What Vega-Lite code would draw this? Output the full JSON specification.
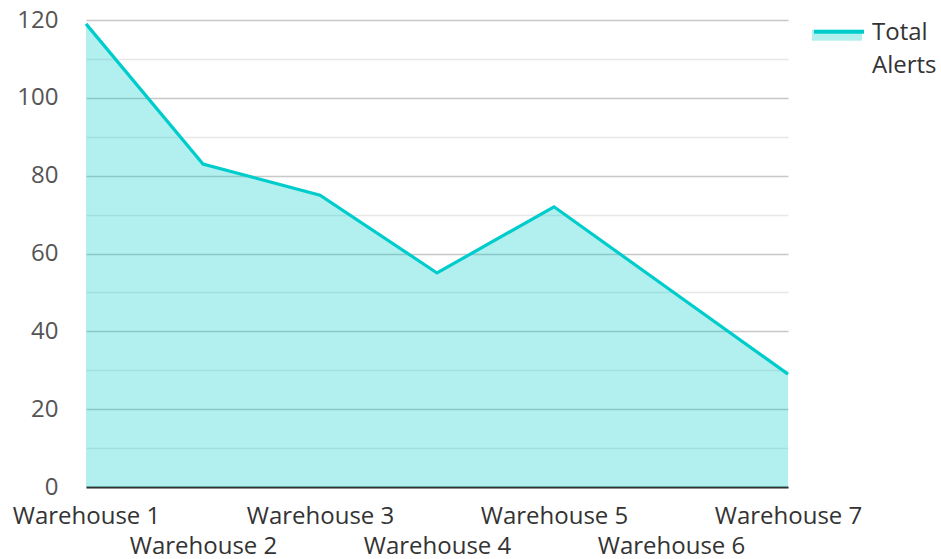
{
  "$schema": "https://vega.github.io/schema/vega-lite/v6.json",
  "width": 702,
  "height": 467,
  "autosize": {"type": "none"},
  "padding": {"left": 86, "top": 20, "right": 153, "bottom": 72},
  "config": {
    "font": "Open Sans",
    "view": {"stroke": null}
  },
  "data": {
    "values": [
      {"warehouse": "Warehouse 1", "alerts": 119},
      {"warehouse": "Warehouse 2", "alerts": 83},
      {"warehouse": "Warehouse 3", "alerts": 75},
      {"warehouse": "Warehouse 4", "alerts": 55},
      {"warehouse": "Warehouse 5", "alerts": 72},
      {"warehouse": "Warehouse 6", "alerts": 50.5},
      {"warehouse": "Warehouse 7", "alerts": 29}
    ]
  },
  "encoding": {
    "x": {
      "field": "warehouse",
      "type": "ordinal",
      "scale": {"type": "point", "padding": 0},
      "axis": {
        "title": null,
        "labelAngle": 0,
        "labelFontSize": 24,
        "labelColor": "#333333",
        "labelOverlap": false,
        "labelFlush": false,
        "labelPadding": 17,
        "labelLineHeight": 30,
        "labelExpr": "parseInt(substring(datum.label, 10)) % 2 == 0 ? ['', datum.label] : datum.label",
        "ticks": false,
        "domainColor": "#333333",
        "domainWidth": 2,
        "grid": false
      }
    },
    "y": {
      "field": "alerts",
      "type": "quantitative",
      "scale": {"domain": [0, 120], "nice": false},
      "axis": {
        "title": null,
        "values": [0, 10, 20, 30, 40, 50, 60, 70, 80, 90, 100, 110, 120],
        "labelExpr": "datum.value % 20 === 0 ? datum.label : ''",
        "labelFontSize": 24,
        "labelColor": "#555555",
        "labelPadding": 28,
        "ticks": false,
        "domain": false,
        "grid": true,
        "gridColor": {"condition": {"test": "datum.value % 20 === 0", "value": "#c8c8c8"}, "value": "#e8e8e8"},
        "gridWidth": 1.5
      }
    }
  },
  "layer": [
    {
      "mark": {"type": "area", "fillOpacity": 0.3},
      "encoding": {
        "fill": {
          "datum": "Total Alerts",
          "scale": {"range": ["#00cccc"]},
          "legend": {
            "title": null,
            "orient": "none",
            "legendX": 726,
            "legendY": -12,
            "padding": 0,
            "symbolType": "M-1,-0.13H1V0.31H-1Z",
            "symbolSize": 2500,
            "symbolOpacity": 0.3,
            "symbolStrokeWidth": 0,
            "labelFontSize": 24,
            "labelColor": "#333333",
            "labelOffset": 10,
            "labelBaseline": "middle",
            "labelExpr": "['Total', 'Alerts']",
            "encode": {"labels": {"update": {"lineHeight": {"value": 33}}}}
          }
        }
      }
    },
    {
      "mark": {"type": "line", "strokeWidth": 3.2},
      "encoding": {
        "stroke": {
          "datum": "Total Alerts ",
          "scale": {"range": ["#00cccc"]},
          "legend": {
            "title": null,
            "orient": "none",
            "legendX": 726,
            "legendY": -12,
            "padding": 0,
            "symbolType": "M-1,-0.13H1",
            "symbolSize": 2500,
            "symbolStrokeWidth": 4,
            "labelExpr": "''"
          }
        }
      }
    }
  ]
}
